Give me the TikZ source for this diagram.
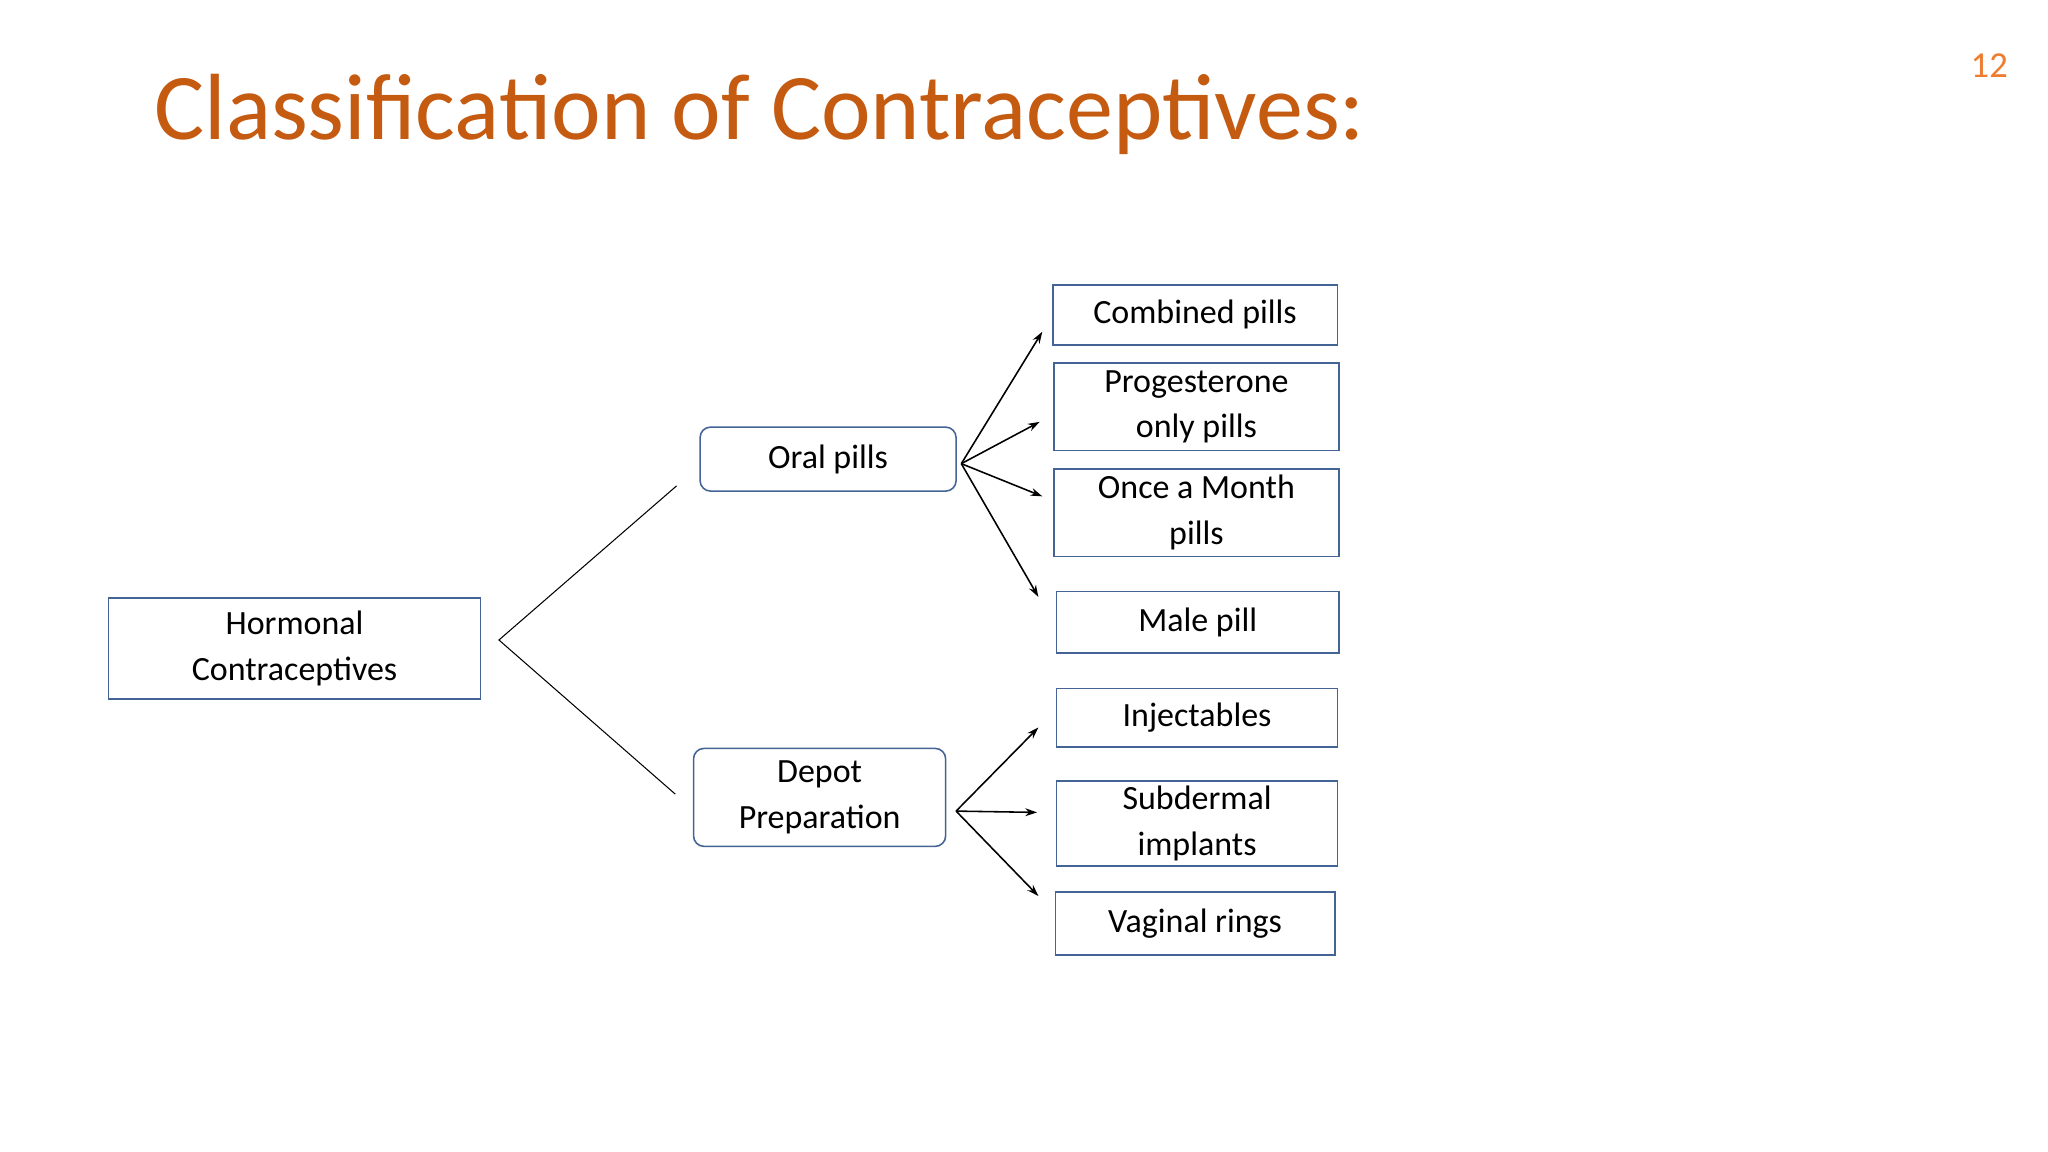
\documentclass[tikz,border=0pt]{standalone}
\usepackage{fontspec}
\setmainfont{Carlito}
\usetikzlibrary{arrows.meta}
\definecolor{ttl}{RGB}{197,90,17}
\definecolor{num}{RGB}{237,125,49}
\definecolor{bx}{RGB}{68,100,150}
\begin{document}
\begin{tikzpicture}[x=1pt,y=-1pt,
  box/.style={draw=bx,line width=1.2pt,inner sep=0pt,align=center,font=\fontsize{26}{35}\selectfont},
  rbox/.style={box,rounded corners=8pt},
  arr/.style={-{Stealth[length=9pt,width=6pt]},line width=1.2pt}]
\useasboundingbox (0,0) rectangle (1568,882);
\fill[white] (0,0) rectangle (1568,882);
\node[anchor=base west,text=ttl,font=\fontsize{72}{80}\selectfont,inner sep=0] (title) at (118,107) {Classification of Contraceptives:};
\node[text=num,font=\fontsize{28}{30}\selectfont] (pg) at (1523,50) {12};
\newcommand{\bnode}[7]{\node[#1,minimum width=#4-#2,minimum height=#5-#3] (#6) at ({(#2+#4)/2},{(#3+#5)/2}) {#7};}
\bnode{box}{83}{458}{368}{535}{horm}{Hormonal\\Contraceptives}
\bnode{rbox}{536}{327}{732}{376}{oral}{Oral pills}
\bnode{rbox}{531}{573}{724}{648}{depot}{Depot\\Preparation}
\bnode{box}{806}{218}{1024}{264}{comb}{Combined pills}
\bnode{box}{807}{278}{1025}{345}{prog}{Progesterone\\only pills}
\bnode{box}{807}{359}{1025}{426}{once}{Once a Month\\pills}
\bnode{box}{809}{453}{1025}{500}{male}{Male pill}
\bnode{box}{809}{527}{1024}{572}{inj}{Injectables}
\bnode{box}{809}{598}{1024}{663}{sub}{Subdermal\\implants}
\bnode{box}{808}{683}{1022}{731}{vag}{Vaginal rings}
\coordinate (h0) at (382,490);
\coordinate (h1) at (518,372);
\coordinate (h2) at (517,608);
\draw[line width=0.8pt] (h1) -- (h0) -- (h2);
\coordinate (o0) at (736,355);
\draw[arr] (o0) -- (798,254);
\draw[arr] (o0) -- (796,323);
\draw[arr] (o0) -- (798,380);
\draw[arr] (o0) -- (795,457);
\coordinate (d0) at (732,621);
\draw[arr] (d0) -- (795,557);
\draw[arr] (d0) -- (794,622);
\draw[arr] (d0) -- (795,686);
\end{tikzpicture}
\end{document}
